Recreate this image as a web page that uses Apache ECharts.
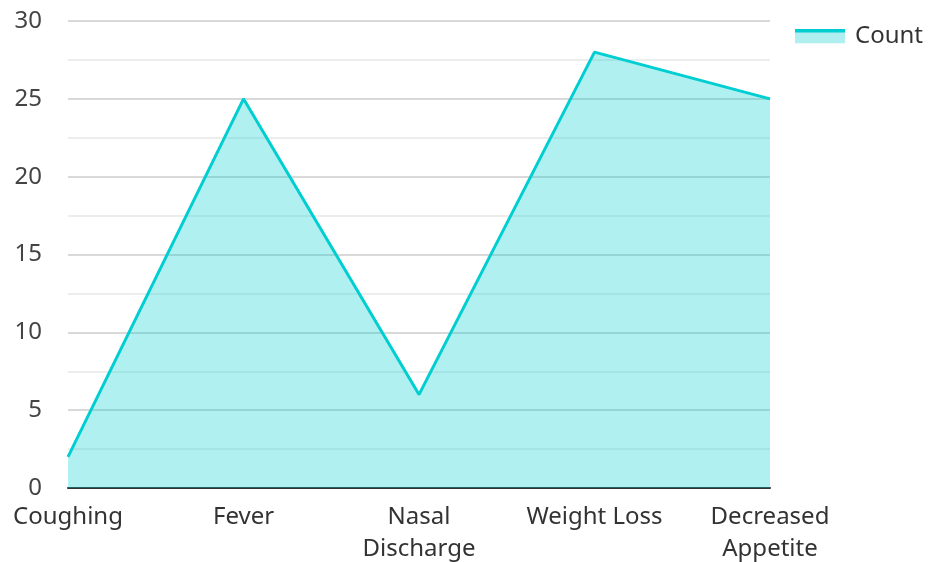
<!DOCTYPE html>
<html>
<head>
<meta charset="utf-8">
<script src="https://cdn.jsdelivr.net/npm/echarts@6/dist/echarts.min.js"></script>
<style>
  html, body { margin: 0; padding: 0; background: #fff; }
  #chart { width: 928px; height: 562px; }
</style>
</head>
<body>
<div id="chart"></div>
<script>
// Symptom counts
const categories = ['Coughing', 'Fever', 'Nasal\nDischarge', 'Weight Loss', 'Decreased\nAppetite'];
const counts = [2, 25, 6, 28, 25];
const seriesName = 'Count';

const lineColor = '#00ced1';
const areaColor = 'rgba(0, 206, 209, 0.31)';
const fontFamily = '"Noto Sans", "Open Sans", sans-serif';

// Two-tone legend swatch: solid stroke on top, translucent fill beneath
const legendSvg = '<svg xmlns="http://www.w3.org/2000/svg" width="50" height="15">' +
  '<rect x="0" y="0" width="50" height="15" fill="#b0efef"/>' +
  '<rect x="0" y="0" width="50" height="4" fill="#00ced1"/></svg>';
const legendIcon = 'image://data:image/svg+xml;charset=utf-8,' + encodeURIComponent(legendSvg);

const chart = echarts.init(document.getElementById('chart'), null, { renderer: 'canvas' });
chart.setOption({
  animation: false,
  textStyle: { fontFamily: fontFamily },
  legend: {
    right: 0,
    top: 19,
    icon: legendIcon,
    itemWidth: 50,
    itemHeight: 15,
    itemGap: 10,
    textStyle: { fontSize: 24, color: '#333', fontFamily: fontFamily, padding: [0, 0, 0, 5] },
    data: [seriesName]
  },
  grid: { left: 68, right: 158, top: 21, bottom: 74, containLabel: false, outerBoundsMode: 'none' },
  xAxis: {
    type: 'category',
    data: categories,
    boundaryGap: false,
    axisLine: { show: true, lineStyle: { color: '#333', width: 2 } },
    axisTick: { show: false },
    axisLabel: { interval: 0, fontSize: 24, color: '#333', margin: 13, lineHeight: 32, fontFamily: fontFamily },
    splitLine: { show: false }
  },
  yAxis: {
    type: 'value',
    min: 0,
    max: 30,
    interval: 5,
    axisLine: { show: false },
    axisTick: { show: false },
    axisLabel: { fontSize: 24, color: '#444', margin: 26, fontFamily: fontFamily },
    splitLine: { show: true, lineStyle: { color: '#cccccc', width: 1.5 } },
    minorTick: { show: false, splitNumber: 2 },
    minorSplitLine: { show: true, lineStyle: { color: '#e8e8e8', width: 1.5 } }
  },
  series: [{
    name: seriesName,
    type: 'line',
    data: counts,
    symbol: 'none',
    lineStyle: { color: lineColor, width: 3 },
    itemStyle: { color: lineColor },
    areaStyle: { color: areaColor, opacity: 1, origin: 'start' },
    z: 1
  }]
});
</script>
</body>
</html>
